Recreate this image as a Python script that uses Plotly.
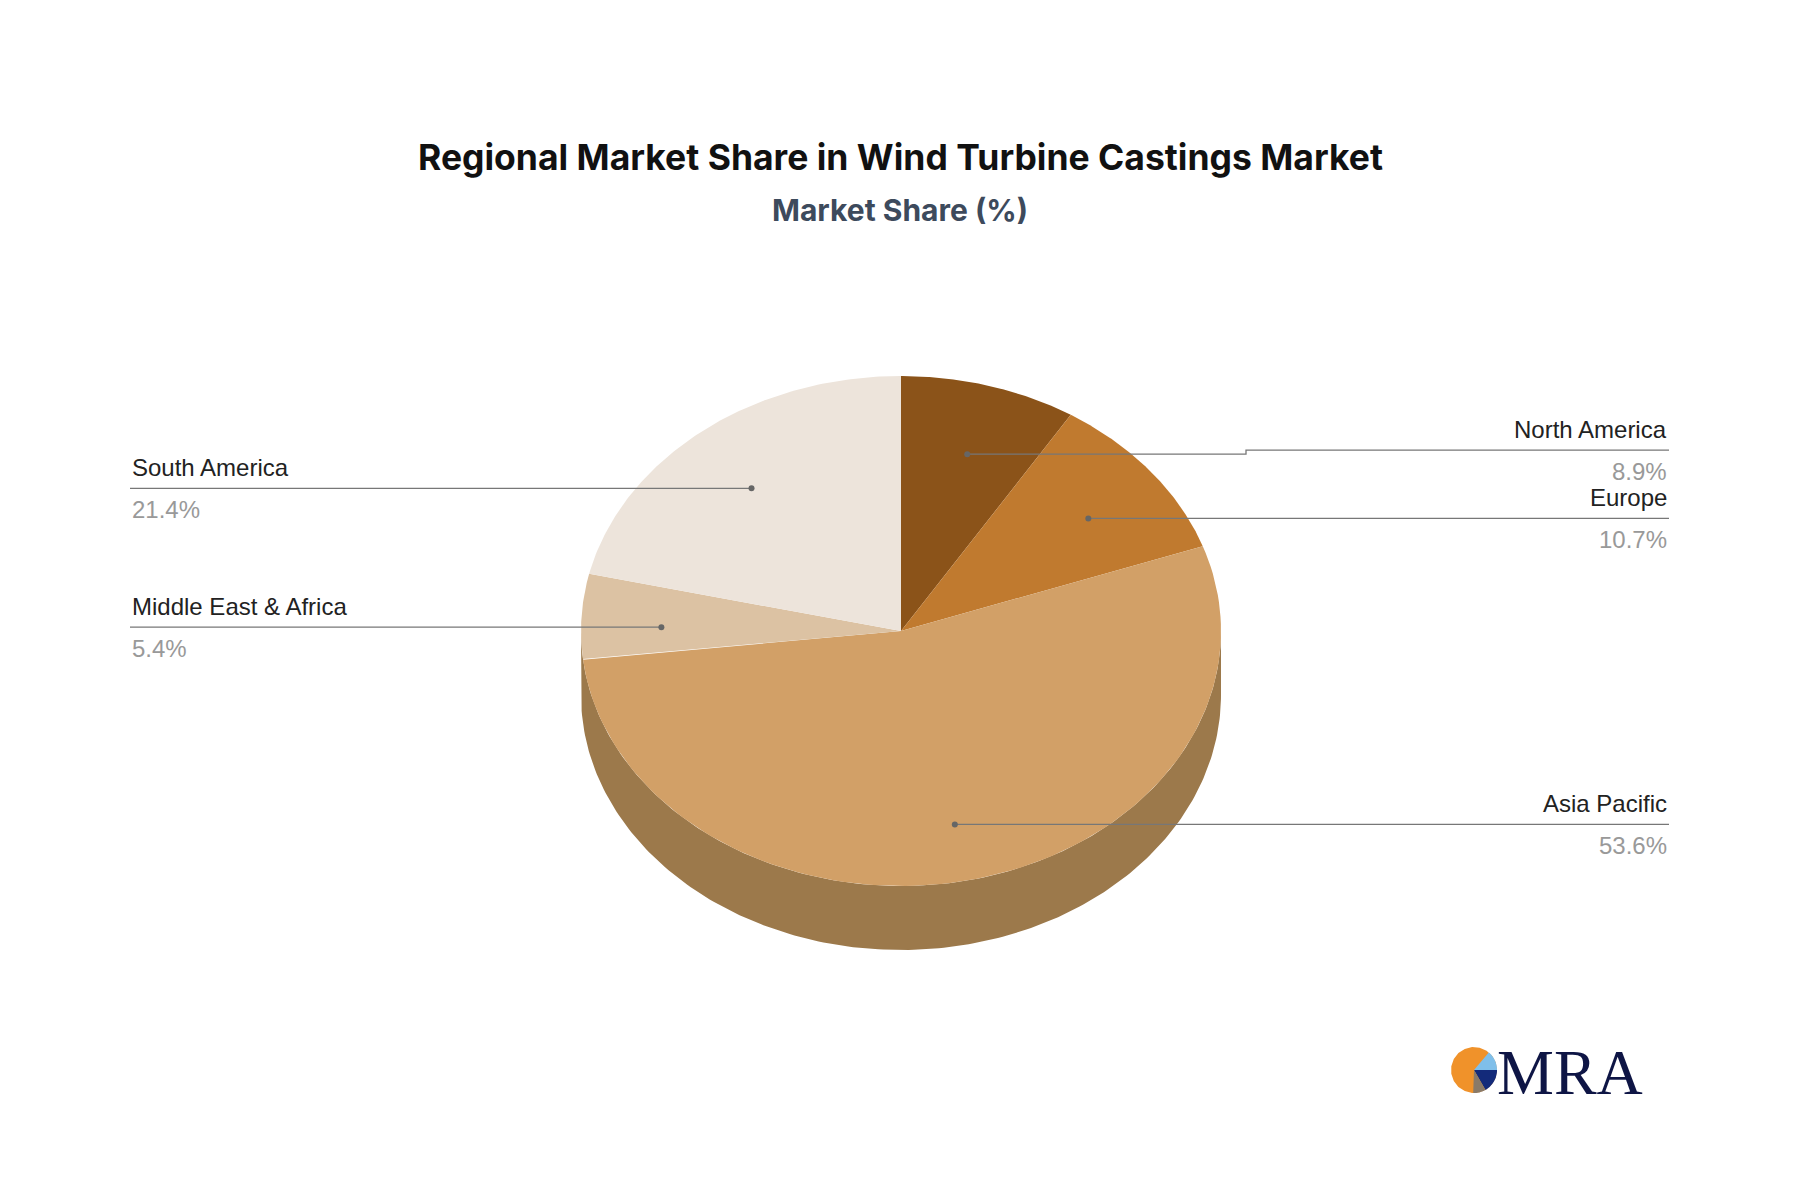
import numpy as np
import plotly.graph_objects as go

regions = ["North America", "Europe", "Asia Pacific", "Middle East & Africa", "South America"]
shares = [8.9, 10.7, 53.6, 5.4, 21.4]
colors = ["#8b5319", "#c07a2f", "#d2a067", "#dcc2a3", "#ede4db"]
side_color = "#9c794b"
W, H = 1800, 1196
OFF = 8
cx, cy, rx, ry, depth = 901, 631, 320, 255, 64

def pt(frac, r=1.0):
    a = 2 * np.pi * frac  # clockwise from top
    return cx + r * rx * np.sin(a), cy - r * ry * np.cos(a)

fig = go.Figure()
t = np.linspace(0.25, 0.75, 200)
xs_top = [pt(f)[0] for f in t]; ys_top = [pt(f)[1] for f in t]
xs = xs_top + xs_top[::-1]; ys = ys_top + [y + depth for y in ys_top[::-1]]
fig.add_trace(go.Scatter(x=xs, y=ys, fill="toself", fillcolor=side_color, mode="lines",
                         line=dict(width=0), hoverinfo="skip", showlegend=False))
cum = np.concatenate([[0], np.cumsum(shares)]) / sum(shares)
for i, (name, s, c) in enumerate(zip(regions, shares, colors)):
    f = np.linspace(cum[i], cum[i + 1], 120)
    px = [cx] + [pt(v)[0] for v in f] + [cx]
    py = [cy] + [pt(v)[1] for v in f] + [cy]
    fig.add_trace(go.Scatter(x=px, y=py, fill="toself", fillcolor=c, mode="lines",
                             line=dict(width=0), hoverinfo="skip", showlegend=False))

ann = []
for i, (name, s) in enumerate(zip(regions, shares)):
    mid = (cum[i] + cum[i + 1]) / 2
    dx, dy = pt(mid, 0.75)
    dy += 7
    right = dx > cx
    ly = dy - 4 if i == 0 else dy
    end = 1669 if right else 130
    if i == 0:
        lx = [dx, 1246, 1246, end]; lyy = [dy, dy, ly, ly]
    else:
        lx = [dx, end]; lyy = [dy, dy]
    fig.add_trace(go.Scatter(x=lx, y=lyy, mode="lines", line=dict(color="#777", width=1.3),
                             hoverinfo="skip", showlegend=False))
    fig.add_trace(go.Scatter(x=[dx], y=[dy], mode="markers", marker=dict(color="#666", size=6),
                             hoverinfo="skip", showlegend=False))
    xa = "right" if right else "left"
    ann.append(dict(x=end, y=ly - 21, text=name, xanchor=xa, yanchor="middle", showarrow=False,
                    font=dict(size=24, color="#222", family="Liberation Sans")))
    ann.append(dict(x=end, y=ly + 21, text=f"{s}%", xanchor=xa, yanchor="middle", showarrow=False,
                    font=dict(size=24, color="#999", family="Liberation Sans")))

ann.append(dict(x=900, y=157, text="<b>Regional Market Share in Wind Turbine Castings Market</b>",
                showarrow=False, font=dict(size=35.5, color="#111", family="Inter"), yanchor="middle"))
ann.append(dict(x=900, y=210, text="<b>Market Share (%)</b>", showarrow=False,
                font=dict(size=30, color="#3d4a5c", family="Inter"), yanchor="middle"))
ann.append(dict(x=1570, y=1072, text="MRA", showarrow=False, xanchor="center", yanchor="middle",
                font=dict(size=64, color="#0e1545", family="Liberation Serif")))

def wedge(a0, a1, lcx=1474, lcy=1070, r=23):
    a = np.linspace(np.radians(a0), np.radians(a1), 20)
    pts = [(lcx, lcy)] + [(lcx + r * np.cos(v), lcy + r * np.sin(v)) for v in a]
    return "M " + " L ".join(f"{x:.1f} {y:.1f}" for x, y in pts) + " Z"

logo = [(0, 360, "#f0922a"), (-50, 0, "#7fbfea"), (0, 60, "#132a7a"), (60, 92, "#8a7a68")]
shapes = [dict(type="path", xref="x", yref="y", path=wedge(a0, a1), fillcolor=c, line=dict(width=0))
          for a0, a1, c in logo]

fig.update_layout(
    width=W, height=H, margin=dict(l=0, r=0, t=0, b=0),
    paper_bgcolor="white", plot_bgcolor="white", annotations=ann,
    xaxis=dict(range=[OFF, W + OFF], visible=False, fixedrange=True),
    yaxis=dict(range=[H + OFF, OFF], visible=False, fixedrange=True),
    shapes=shapes,
)
fig.write_html("out.html")
